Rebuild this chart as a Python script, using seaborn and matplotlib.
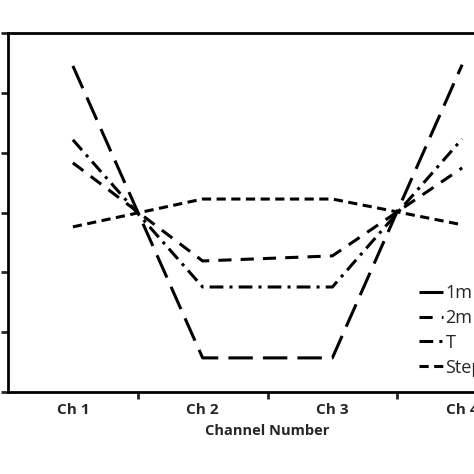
import pandas as pd
import seaborn as sns
import matplotlib.pyplot as plt

# Datos
canales = ["Ch 1", "Ch 2", "Ch 3", "Ch 4"]
serie_1m = [1.49, 0.514, 0.514, 1.494]
serie_2m = [1.166, 0.838, 0.855, 1.149]
serie_T = [1.243, 0.751, 0.751, 1.246]
serie_ste = [0.952, 1.045, 1.045, 0.959]
nombres = ["1m", "2m", "T", "Step"]
yticks = [0.4, 0.6, 0.8, 1.0, 1.2, 1.4, 1.6]

df = pd.DataFrame({
    "x": list(range(len(canales))) * 4,
    "valor": serie_1m + serie_2m + serie_T + serie_ste,
    "serie": [n for n in nombres for _ in canales],
})

sns.set_style("white")
plt.rcParams["font.family"] = ["Open Sans", "DejaVu Sans"]

fig = plt.figure(figsize=(4.74, 4.74), dpi=100)
# el grafico original esta recortado por la derecha y la izquierda
ax = fig.add_axes([8 / 474, 82 / 474, 519 / 474, 359 / 474])

estilos = {
    "1m": (8, 3.3),
    "2m": (4.3, 3),
    "T": (4.5, 2, 1, 2),
    "Step": (3, 1.8),
}
sns.lineplot(data=df, x="x", y="valor", hue="serie", style="serie",
             palette=["black"] * 4, dashes=estilos, linewidth=2.2, ax=ax,
             legend=False)

ax.set_xlim(-0.5, 3.5)
ax.set_ylim(0.4, 1.6)
ax.set_yticks(yticks)
ax.set_yticklabels([f"{v:.1f}" for v in yticks], fontsize=10, fontweight="bold")
ax.set_xticks([0.5, 1.5, 2.5], minor=False)
ax.set_xticks([0, 1, 2, 3], minor=True)
ax.set_xticklabels([])
ax.set_xticklabels(canales, minor=True, fontsize=11, fontweight="bold")
ax.tick_params(axis="x", which="major", direction="out", length=5, width=2, bottom=True)
ax.tick_params(axis="x", which="minor", length=0, pad=8)
ax.tick_params(axis="y", direction="out", length=5, width=2, left=True, pad=12)
ax.set_xlabel("Channel Number", fontsize=10.5, fontweight="bold", labelpad=5)
ax.set_ylabel("")
for s in ax.spines.values():
    s.set_linewidth(2)
    s.set_color("black")

handles = ax.get_lines()[:4]
fig.legend(handles, nombres, loc="upper left",
           bbox_to_anchor=(419 / 474, 1 - 284 / 474), frameon=False,
           fontsize=13, handlelength=1.35, handletextpad=0.12,
           labelspacing=0.38, borderaxespad=0, borderpad=0)

fig.savefig("out.png", dpi=100)
